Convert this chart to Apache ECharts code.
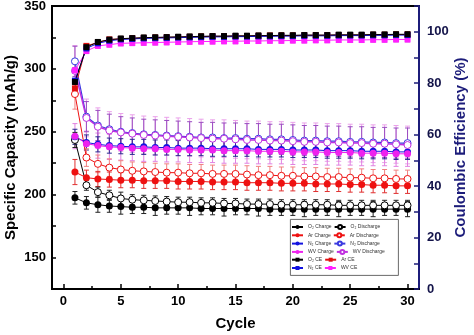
<!DOCTYPE html>
<html>
<head>
<meta charset="utf-8">
<script src="https://cdn.jsdelivr.net/npm/echarts@6/dist/echarts.min.js"></script>
<style>
  html, body { margin: 0; padding: 0; background: #fff; }
  #chart { width: 474px; height: 335px; }
</style>
</head>
<body>
<div id="chart"></div>
<script>
// Cycle numbers
const cycles = [1,2,3,4,5,6,7,8,9,10,11,12,13,14,15,16,17,18,19,20,21,22,23,24,25,26,27,28,29,30];

// Specific capacity (mAh/g)
const o2Charge     = [197.5,193.5,192,191,190.5,190,190,189.5,189.5,189.5,189.5,189,189,189,189,189,189,188.5,188.5,188.5,188.5,188.5,188.5,188.5,188.5,188.5,188.5,188.5,188.5,188.5];
const o2Discharge  = [243.5,207.5,202,199.5,197,196,195.5,195,194.5,194,194,193.5,193.5,193,193,192.5,192.5,192.5,192,192,192,192,192,191.5,191.5,191.5,191.5,191.5,191.5,191.5];
const arCharge     = [218,213.5,212.5,212,211.5,211.5,211,211,211,210.5,210.5,210.5,210,210,210,209.5,209.5,209.5,209,209,209,208.5,208.5,208.5,208,208,207.5,207.5,207,207];
const arDischarge  = [280,229.5,224.5,221.5,220,219,218.5,218,217.5,217.5,217,217,216.5,216.5,216.5,216,215.5,215.5,215,215,214.5,214.5,214,214,213.5,213.5,213,213,212.5,212.5];
const n2Charge     = [246,241.5,240,239,238.5,238,238,237.5,237.5,237,237,237,236.5,236.5,236.5,236.5,236,236,236,235.5,235.5,235.5,235,235,235,234.5,234.5,234.5,234,234];
const n2Discharge  = [306,262,255,252,250,249,248,247.5,247,246.5,246,245.5,245.5,245,245,244.5,244.5,244,244,243.5,243,243,242.5,242.5,242,242,241.5,241.5,241,241];
const wvCharge     = [246.5,240.5,239,238,237.5,237,236.5,236.5,236,236,235.5,235.5,235.5,235,235,235,234.5,234.5,234.5,234,234,234,233.5,233.5,233.5,233,233,233,232.5,232.5];
const wvDischarge  = [298.5,261,254,251,249.5,248.5,247.5,247,246.5,246,245.5,245,244.5,244.5,244,243.5,243.5,243,243,242.5,242,242,241.5,241.5,241,241,240.5,240.5,240,239.5];

// Error bar half-widths (mAh/g)
const o2ChargeErr    = [5,5,6,5,6,5,5,6,5,5,6,5,5,6,5,5,6,5,5,5,6,5,5,6,5,5,6,5,5,6];
const o2DischargeErr = [6,4,4,4,5,4,4,4,4,4,4,4,4,4,4,4,4,4,4,4,4,4,4,4,4,4,4,4,4,4];
const arChargeErr    = [10,6,6,6,6,6,6,6,6,6,6,6,6,6,6,6,6,6,6,6,6,6,6,6,6,6,6,6,6,6];
const arDischargeErr = [12,7,7,7,7,7,7,7,7,7,7,7,7,7,7,7,7,7,7,7,7,7,7,7,7,7,7,7,7,7];
const n2ChargeErr    = [6,6,6,6,6,6,6,6,6,6,6,6,6,6,6,6,6,6,6,6,6,6,6,6,6,6,6,6,6,6];
const n2DischargeErr = [12,12,12,12,12,12,12,12,12,12,12,12,12,12,12,12,12,12,12,12,12,12,12,12,12,12,12,12,12,12];
const wvChargeErr    = [10,10,10,10,10,10,10,10,10,10,10,10,10,10,10,10,10,10,10,10,10,10,10,10,10,10,10,10,10,10];
const wvDischargeErr = [20,15,15,15,15,15,15,15,15,15,15,15,15,15,15,15,15,15,15,15,15,15,15,15,15,15,15,15,15,15];

// Coulombic efficiency (%)
const o2CE = [80.5,94,96,96.9,97.3,97.5,97.7,97.8,97.9,98,98.1,98.2,98.3,98.3,98.4,98.4,98.5,98.5,98.6,98.6,98.7,98.7,98.7,98.8,98.8,98.8,98.9,98.9,99,99];
const arCE = [78,94.5,95.8,97,97.2,97.4,97.6,97.7,97.8,97.9,98,98.1,98.2,98.2,98.3,98.3,98.4,98.5,98.5,98.5,98.6,98.6,98.6,98.7,98.7,98.7,98.8,98.8,98.9,98.9];
const n2CE = [81,93.5,95.5,96.5,97,97.2,97.4,97.5,97.6,97.7,97.8,97.9,98,98,98.1,98.1,98.2,98.2,98.3,98.3,98.4,98.4,98.4,98.5,98.5,98.5,98.6,98.6,98.7,98.7];
const wvCE = [85,92.5,94.5,95,95.5,95.6,95.7,95.8,95.9,96,96.1,96.2,96.2,96.3,96.3,96.4,96.4,96.5,96.5,96.6,96.6,96.7,96.7,96.8,96.8,96.8,96.9,96.9,97,97];
const ceErr = [1,1,1,1,1,1,1,1,1,1,1,1,1,1,1,1,1,1,1,1,1,1,1,1,1,1,1,1,1,1];

// Axis ticks
const xMajorTicks = [0,5,10,15,20,25,30];
const xMinorTicks = [2.5,7.5,12.5,17.5,22.5,27.5];

// Legend rows
const legendRows = [
  ['O₂ Charge', 'O₂ Discharge'],
  ['Ar Charge', 'Ar Discharge'],
  ['N₂ Charge', 'N₂ Discharge'],
  ['WV Charge', 'WV Discharge'],
  ['O₂ CE', 'Ar CE'],
  ['N₂ CE', 'WV CE']
];

const C = { o2: '#000000', ar: '#ee1111', n2: '#1414e0', wv: '#ee22ee', navy: '#1c1c7a' };
const FONT = 'Liberation Sans, Arial, sans-serif';

function pairs(vals) { return cycles.map((c, i) => [c, vals[i]]); }

function errorBars(name, vals, errs, color, yAxisIndex) {
  return {
    type: 'custom', name: name, xAxisIndex: 0, yAxisIndex: yAxisIndex,
    silent: true, z: 1,
    encode: { x: 0, y: [1, 2] },
    data: cycles.map((c, i) => [c, vals[i] - errs[i], vals[i] + errs[i]]),
    renderItem: function (params, api) {
      const x = api.value(0);
      const lo = api.coord([x, api.value(1)]);
      const hi = api.coord([x, api.value(2)]);
      const w = 2.5;
      const style = { stroke: color, lineWidth: 1 };
      return { type: 'group', children: [
        { type: 'line', shape: { x1: lo[0], y1: lo[1], x2: hi[0], y2: hi[1] }, style: style },
        { type: 'line', shape: { x1: lo[0] - w, y1: lo[1], x2: lo[0] + w, y2: lo[1] }, style: style },
        { type: 'line', shape: { x1: hi[0] - w, y1: hi[1], x2: hi[0] + w, y2: hi[1] }, style: style }
      ]};
    }
  };
}

function filled(name, vals, color) {
  return { type: 'line', name: name, yAxisIndex: 0, data: pairs(vals), z: 3,
    symbol: 'circle', symbolSize: 7,
    lineStyle: { color: color, width: 1 },
    itemStyle: { color: color, borderColor: color, borderWidth: 0 } };
}
function open(name, vals, color, lw) {
  return { type: 'line', name: name, yAxisIndex: 0, data: pairs(vals), z: 3,
    symbol: 'circle', symbolSize: 7, showAllSymbol: true,
    lineStyle: { color: color, width: lw || 1 },
    itemStyle: { color: '#ffffff', borderColor: color, borderWidth: 1 } };
}
function ce(name, vals, color) {
  return { type: 'line', name: name, yAxisIndex: 1, data: pairs(vals), z: 4,
    symbol: 'rect', symbolSize: 6,
    lineStyle: { color: color, width: 1 },
    itemStyle: { color: color } };
}

const chart = echarts.init(document.getElementById('chart'), null, { renderer: 'canvas' });

chart.setOption({
  animation: false,
  backgroundColor: '#ffffff',
  textStyle: { fontFamily: FONT },
  grid: { left: 52, right: 55, top: 6, bottom: 46, outerBoundsMode: 'none', containLabel: false,
    show: true, borderColor: '#000', borderWidth: 2, backgroundColor: 'transparent' },
  legend: legendRows.map((row, i) => ({
    data: row, left: 291, top: 224 + i * 8.3, orient: 'horizontal',
    itemWidth: 11, itemHeight: 5, itemGap: 2, padding: 0, selectedMode: false,
    textStyle: { fontSize: 5, color: '#333', fontFamily: FONT }
  })),
  graphic: [{
    type: 'rect', left: 290, top: 219, z: 3,
    shape: { width: 108, height: 56 },
    style: { fill: '#ffffff', stroke: '#444', lineWidth: 0.8 }
  }],
  xAxis: [{
    type: 'value', min: -1, max: 31, position: 'bottom',
    name: 'Cycle', nameLocation: 'middle', nameGap: 27, nameMoveOverlap: false,
    nameTextStyle: { fontSize: 15, fontWeight: 'bold', color: '#000', fontFamily: FONT },
    axisLine: { onZero: false, lineStyle: { color: '#000', width: 2 } },
    axisTick: { inside: true, length: 5, customValues: xMajorTicks, lineStyle: { color: '#000', width: 1.5 } },
    axisLabel: { customValues: xMajorTicks, fontSize: 13, fontWeight: 'bold', color: '#000', margin: 6, fontFamily: FONT },
    splitLine: { show: false }
  }, {
    type: 'value', min: -1, max: 31, position: 'bottom',
    axisLine: { show: false, onZero: false },
    axisTick: { inside: true, length: 3, customValues: xMinorTicks, lineStyle: { color: '#000', width: 1.5 } },
    axisLabel: { show: false },
    splitLine: { show: false }
  }],
  yAxis: [{
    type: 'value', min: 125, max: 350, interval: 25, position: 'left',
    name: 'Specific Capacity (mAh/g)', nameLocation: 'middle', nameGap: 34, nameMoveOverlap: false,
    nameTextStyle: { fontSize: 15, fontWeight: 'bold', color: '#000', fontFamily: FONT },
    axisLine: { show: true, onZero: false, lineStyle: { color: '#000', width: 2 } },
    axisTick: { show: true, inside: true, length: 4, lineStyle: { color: '#000', width: 1.5 } },
    axisLabel: { fontSize: 13, fontWeight: 'bold', color: '#000', margin: 6, fontFamily: FONT,
      formatter: v => (v % 50 === 0 ? String(v) : '') },
    splitLine: { show: false }
  }, {
    type: 'value', min: 0, max: 110, interval: 10, position: 'right',
    name: 'Coulombic Efficiency (%)', nameLocation: 'middle', nameGap: 34, nameRotate: 90, nameMoveOverlap: false,
    nameTextStyle: { fontSize: 15, fontWeight: 'bold', color: C.navy, fontFamily: FONT },
    axisLine: { show: true, onZero: false, lineStyle: { color: C.navy, width: 2 } },
    axisTick: { show: true, inside: true, length: 5, lineStyle: { color: C.navy, width: 1.5 } },
    axisLabel: { fontSize: 13, fontWeight: 'bold', color: '#14144a', margin: 8, fontFamily: FONT,
      formatter: v => (v % 20 === 0 && v <= 100 ? String(v) : '') },
    splitLine: { show: false }
  }],
  series: [
    errorBars('wvDischargeErr', wvDischarge, wvDischargeErr, '#eaa0ea', 0),
    errorBars('wvChargeErr', wvCharge, wvChargeErr, '#e080e0', 0),
    errorBars('n2DischargeErr', n2Discharge, n2DischargeErr, '#9a4cc0', 0),
    errorBars('n2ChargeErr', n2Charge, n2ChargeErr, '#2a2a90', 0),
    errorBars('arDischargeErr', arDischarge, arDischargeErr, '#f08080', 0),
    errorBars('arChargeErr', arCharge, arChargeErr, '#e03030', 0),
    errorBars('o2DischargeErr', o2Discharge, o2DischargeErr, '#222', 0),
    errorBars('o2ChargeErr', o2Charge, o2ChargeErr, '#222', 0),
    errorBars('o2CEErr', o2CE, ceErr, '#222', 1),
    errorBars('wvCEErr', wvCE, ceErr, '#e060e0', 1),

    filled('O₂ Charge', o2Charge, C.o2),
    open('O₂ Discharge', o2Discharge, C.o2),
    filled('Ar Charge', arCharge, C.ar),
    open('Ar Discharge', arDischarge, C.ar),
    filled('N₂ Charge', n2Charge, C.n2),
    open('N₂ Discharge', n2Discharge, '#3a3ae0', 1.2),
    filled('WV Charge', wvCharge, C.wv),
    open('WV Discharge', wvDischarge, '#c030e0', 1.5),

    ce('WV CE', wvCE, '#ff20ff'),
    ce('Ar CE', arCE, '#e01010'),
    ce('N₂ CE', n2CE, '#1010e0'),
    ce('O₂ CE', o2CE, '#000000')
  ]
});
</script>
</body>
</html>
